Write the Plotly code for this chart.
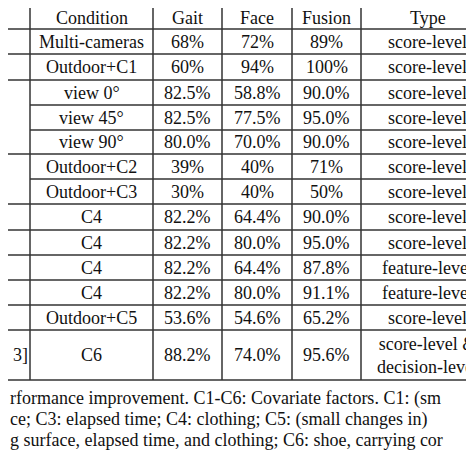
import plotly.graph_objects as go

conditions = ["Multi-cameras", "Outdoor+C1", "view 0°", "view 45°", "view 90°", "Outdoor+C2",
              "Outdoor+C3", "C4", "C4", "C4", "C4", "Outdoor+C5", "C6"]
gait = ["68%", "60%", "82.5%", "82.5%", "80.0%", "39%", "30%", "82.2%", "82.2%", "82.2%", "82.2%", "53.6%", "88.2%"]
face = ["72%", "94%", "58.8%", "77.5%", "70.0%", "40%", "40%", "64.4%", "80.0%", "64.4%", "80.0%", "54.6%", "74.0%"]
fusion = ["89%", "100%", "90.0%", "95.0%", "90.0%", "71%", "50%", "90.0%", "95.0%", "87.8%", "91.1%", "65.2%", "95.6%"]
types = ["score-level"] * 9 + ["feature-level", "feature-level", "score-level", "score-level &<br>decision-level"]
headers = ["Condition", "Gait", "Face", "Fusion", "Type"]
first_col = [""] * 12 + ["3]"]
caption = ["rformance improvement. C1-C6: Covariate factors. C1: (sm",
           "ce; C3: elapsed time; C4: clothing; C5: (small changes in)",
           "g surface, elapsed time, and clothing; C6: shoe, carrying cor"]

# layout geometry (pixels)
col_x = [-2, 22, 145, 214, 284, 353, 520]
row_y = [-5, 21, 46, 72, 97, 122, 146, 171, 196, 222, 247, 272, 297, 322, 372]
first_col_lines = [21, 46, 72, 146, 196, 222, 247, 272, 297, 322, 372]

F = dict(family="Liberation Serif, Times New Roman, DejaVu Serif, serif", size=18, color="#111")
fig = go.Figure()
shapes = []
for x in col_x[1:-1]:
    shapes.append(dict(type="line", x0=x, x1=x, y0=row_y[0], y1=row_y[-1], line=dict(color="#333", width=1.5)))
for y in row_y[1:]:
    x0 = col_x[0] if y in first_col_lines else col_x[1]
    shapes.append(dict(type="line", x0=x0, x1=col_x[-1], y0=y, y1=y, line=dict(color="#333", width=1.5)))

ann = []
def cell(ci, yc, txt):
    xc = (col_x[ci] + min(col_x[ci + 1], 486)) / 2
    ann.append(dict(x=xc, y=yc, text=txt, showarrow=False, font=F, xanchor="center", yanchor="middle"))

hy = (row_y[0] + row_y[1]) / 2 + 2
for i, h in enumerate(headers):
    cell(i + 1, hy, h)
for r in range(len(conditions)):
    yc = (row_y[r + 1] + row_y[r + 2]) / 2
    for ci, arr in enumerate([first_col, conditions, gait, face, fusion, types]):
        if arr[r]:
            if ci == 0:
                ann.append(dict(x=22, y=yc, text=arr[r], showarrow=False, font=F, xanchor="right", yanchor="middle"))
            else:
                cell(ci, yc, arr[r])
for i, line in enumerate(caption):
    ann.append(dict(x=0, y=390 + i * 21, text=line, showarrow=False, font=F, xanchor="left", yanchor="middle"))

fig.update_layout(width=474, height=474, margin=dict(l=0, r=0, t=0, b=0),
                  paper_bgcolor="white", plot_bgcolor="white", shapes=shapes, annotations=ann,
                  xaxis=dict(range=[0, 474], visible=False, fixedrange=True),
                  yaxis=dict(range=[474, 0], visible=False, fixedrange=True), showlegend=False)
fig.write_html("out.html")
